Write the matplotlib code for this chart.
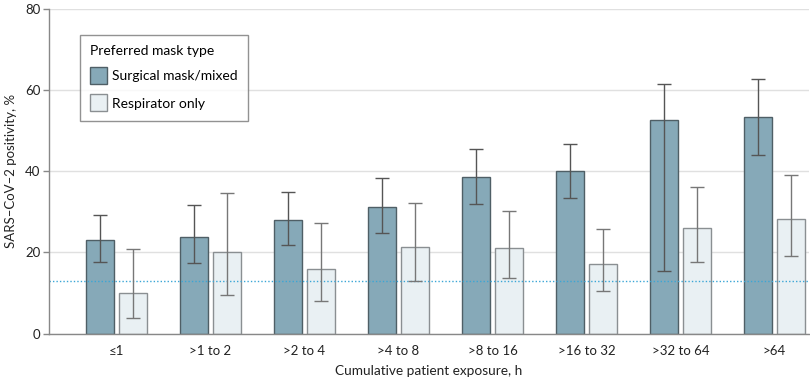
import matplotlib
matplotlib.use("Agg")
import matplotlib.pyplot as plt
import numpy as np

categories = ["≤1", ">1 to 2", ">2 to 4", ">4 to 8", ">8 to 16", ">16 to 32", ">32 to 64", ">64"]
surgical = [23.0, 23.9, 28.0, 31.3, 38.6, 40.0, 52.7, 53.5]
surgical_lo = [17.6, 17.4, 21.8, 24.9, 32.0, 33.4, 15.3, 44.0]
surgical_hi = [29.1, 31.7, 35.0, 38.3, 45.6, 46.8, 61.4, 62.8]
respirator = [10.1, 20.0, 15.8, 21.4, 21.1, 17.2, 26.0, 28.3]
respirator_lo = [3.8, 9.5, 7.9, 13.0, 13.6, 10.4, 17.6, 19.2]
respirator_hi = [20.8, 34.6, 27.2, 32.2, 30.2, 25.7, 36.0, 39.1]
reference_line = 12.9

plt.rcParams['font.family'] = ['Lato', 'DejaVu Sans']

fig = plt.figure(figsize=(8.1, 3.84), dpi=100)
ax = fig.add_axes([0.0605, 0.1315, 0.9385, 0.845])

x = np.arange(len(categories))
w = 0.303
off = 0.175
s = np.array(surgical); r = np.array(respirator)
ax.bar(x - off, s, w, color='#86a9b8', edgecolor='#4f5f66', linewidth=1.0, zorder=2,
       label='Surgical mask/mixed')
ax.bar(x + off, r, w, color='#e9f0f3', edgecolor='#8a8f92', linewidth=1.0, zorder=2,
       label='Respirator only')
ax.errorbar(x - off, s, yerr=[s - np.array(surgical_lo), np.array(surgical_hi) - s],
            fmt='none', ecolor='#555555', elinewidth=1.0, capsize=5, capthick=1.0, zorder=3)
ax.errorbar(x + off, r, yerr=[r - np.array(respirator_lo), np.array(respirator_hi) - r],
            fmt='none', ecolor='#777777', elinewidth=1.0, capsize=5, capthick=1.0, zorder=3)
ax.axhline(reference_line, color='#3aa6d6', linestyle=(0, (1, 1.5)), linewidth=1.0, zorder=2.5)

ax.set_xlim(-0.718, 7.37)
ax.set_ylim(0, 80)
ax.set_yticks([0, 20, 40, 60, 80])
ax.set_xticks(x)
ax.set_xticklabels(categories)
ax.tick_params(axis='x', length=0, labelsize=9.5, pad=8, colors='#222222')
ax.tick_params(axis='y', length=4, width=1, labelsize=9.5, colors='#222222', pad=2)
ax.tick_params(axis='y', color='#888888')
ax.yaxis.grid(True, color='#e0e0e0', linewidth=1.0, zorder=0)
ax.set_axisbelow(True)
for sp in ['top', 'right']:
    ax.spines[sp].set_visible(False)
for sp in ['left', 'bottom']:
    ax.spines[sp].set_color('#888888')
    ax.spines[sp].set_linewidth(1.0)
ax.set_ylabel('SARS–CoV–2 positivity, %', fontsize=9.5, color='#222222', labelpad=6)
ax.set_xlabel('Cumulative patient exposure, h', fontsize=9.8, color='#222222', labelpad=6)

leg = ax.legend(title='Preferred mask type', loc='upper left', bbox_to_anchor=(0.041, 0.92),
                frameon=True, fancybox=False, edgecolor='#777777', fontsize=10,
                title_fontsize=10, handlelength=1.22, handleheight=1.5, borderpad=0.7,
                labelspacing=0.75, handletextpad=0.4, borderaxespad=0)
leg._legend_box.align = 'left'
leg.get_frame().set_linewidth(1.0)

fig.savefig('out.png', dpi=100)
